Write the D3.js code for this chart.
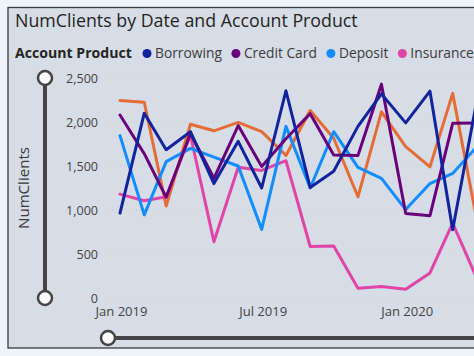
<!DOCTYPE html>
<html><head><meta charset="utf-8">
<script src="https://cdn.jsdelivr.net/npm/d3@7"></script>
<style>html,body{margin:0;padding:0;background:#eef4fa;overflow:hidden}svg{display:block}</style>
</head><body>
<svg id="c" width="474" height="356"></svg>
<script>
const months = ["2019-01","2019-02","2019-03","2019-04","2019-05","2019-06","2019-07","2019-08","2019-09","2019-10","2019-11","2019-12","2020-01","2020-02","2020-03","2020-04"];
const seriesNames = ["Borrowing","Credit Card","Deposit","Insurance","Savings"];
const seriesColors = ["#12239E","#6B007B","#118DFF","#E044A7","#E66C37"];
const borrowing  = [965,2100,1685,1890,1300,1780,1250,2355,1255,1440,1950,2320,1990,2350,775,2250];
const creditCard = [2080,1640,1145,1870,1360,1960,1495,1810,2095,1625,1620,2430,960,935,1985,1990];
const deposit    = [1845,945,1550,1700,1600,1500,780,1950,1250,1890,1485,1360,1005,1300,1415,1720];
const insurance  = [1180,1105,1150,1850,640,1485,1450,1560,585,590,110,130,100,285,850,220];
const savings    = [2245,2225,1045,1975,1900,1995,1890,1620,2130,1815,1150,2115,1720,1490,2325,880];
const yTicks = [0,500,1000,1500,2000,2500];
const xTickDates = ["2019-01","2019-07","2020-01"];
const xTickLabels = ["Jan 2019","Jul 2019","Jan 2020"];
const yTitle = "NumClients";
const chartTitle = "NumClients by Date and Account Product";
const legendTitle = "Account Product";

const parse = d3.timeParse("%Y-%m");
const dates = months.map(parse);
const values = [borrowing, creditCard, deposit, insurance, savings];

const svg = d3.select("#c");
const FONT = "'Open Sans', 'Noto Sans', sans-serif";

function fit(sel, target){
  const w = sel.node().getComputedTextLength();
  const s = parseFloat(sel.attr("font-size"));
  const ns = s*target/w;
  sel.attr("font-size", ns);
  return ns;
}

// panel
svg.append("rect").attr("x",8).attr("y",7.5).attr("width",700).attr("height",340.5)
  .attr("fill","#d6dde6").attr("stroke","#3a3a3a").attr("stroke-width",1.3);

// title
const t = svg.append("text").attr("x",15).attr("y",27).attr("font-family",FONT).attr("font-size",16)
  .attr("fill","#252423").text(chartTitle);
fit(t, 343);

// scales
const x = d3.scaleTime().domain([parse("2019-01"), parse("2020-01")]).range([120, 405.7]);
const y = d3.scaleLinear().domain([0,2500]).range([298,78]);

// gridlines
svg.append("g").selectAll("line").data(yTicks).join("line")
  .attr("x1",108).attr("x2",474).attr("y1",d=>y(d)).attr("y2",d=>y(d))
  .attr("stroke","#c3c9d1").attr("stroke-width",1).attr("stroke-dasharray","1,3");

// y axis labels
const yAxis = svg.append("g").attr("transform","translate(98,0)")
  .call(d3.axisLeft(y).tickValues(yTicks).tickSize(0).tickPadding(0).tickFormat(d3.format(",")));
yAxis.select(".domain").remove();
yAxis.selectAll("text").attr("font-family",FONT).attr("font-size",12).attr("fill","#444").attr("dy","0.32em");
const yl = yAxis.selectAll("text").filter(d=>d===2500);
const ys = fit(yl, 32);
yAxis.selectAll("text").attr("font-size", ys);

// x axis labels
const xAxis = svg.append("g").attr("transform","translate(1,306.5)")
  .call(d3.axisBottom(x).tickValues(xTickDates.map(parse)).tickSize(0).tickPadding(0)
    .tickFormat((d,i)=>xTickLabels[i]));
xAxis.select(".domain").remove();
xAxis.selectAll("text").attr("font-family",FONT).attr("font-size",ys).attr("fill","#444").attr("dy","0.71em");
const xl = xAxis.selectAll("text").filter((d,i)=>i===0);
const xs = fit(xl, 52);
xAxis.selectAll("text").attr("font-size", xs);

// y title
const yt = svg.append("text").attr("transform","translate(29,188) rotate(-90)").attr("text-anchor","middle")
  .attr("font-family",FONT).attr("font-size",14).attr("fill","#3a3a3a").text(yTitle);
fit(yt, 82);

// lines
const line = d3.line().x((d,i)=>x(dates[i])).y(d=>y(d));
const order = [4,3,2,1,0];
svg.append("g").attr("fill","none").attr("stroke-width",3).attr("stroke-linejoin","round").attr("stroke-linecap","round")
  .selectAll("path").data(order).join("path")
  .attr("stroke",i=>seriesColors[i]).attr("d",i=>line(values[i]));

// legend
const lg = svg.append("g");
const lt = lg.append("text").attr("x",15).attr("y",58).attr("font-family",FONT).attr("font-weight","bold")
  .attr("font-size",13).attr("fill","#252423").text(legendTitle);
fit(lt, 117);
let lx = 147;
let itemFont = 13;
seriesNames.forEach((n,i)=>{
  if (lx > 466) return; // off the visible area
  lg.append("circle").attr("cx",lx).attr("cy",53.5).attr("r",4.5).attr("fill",seriesColors[i]);
  const tx = lg.append("text").attr("x",lx+8).attr("y",58).attr("font-family",FONT)
    .attr("font-size",itemFont).attr("fill","#3b3b3b").text(n);
  if(i===0) { itemFont = fit(tx, 67); }
  lx += 8 + tx.node().getComputedTextLength() + 14;
});

// vertical slider
svg.append("line").attr("x1",45).attr("x2",45).attr("y1",78).attr("y2",298).attr("stroke","#444").attr("stroke-width",4);
[78,298].forEach(cy=>svg.append("circle").attr("cx",45).attr("cy",cy).attr("r",7)
  .attr("fill","#fff").attr("stroke","#444").attr("stroke-width",2.5));
// horizontal slider
svg.append("line").attr("x1",108).attr("x2",480).attr("y1",338).attr("y2",338).attr("stroke","#444").attr("stroke-width",4);
svg.append("circle").attr("cx",108).attr("cy",338).attr("r",7).attr("fill","#fff").attr("stroke","#444").attr("stroke-width",2.5);
</script>
</body></html>
